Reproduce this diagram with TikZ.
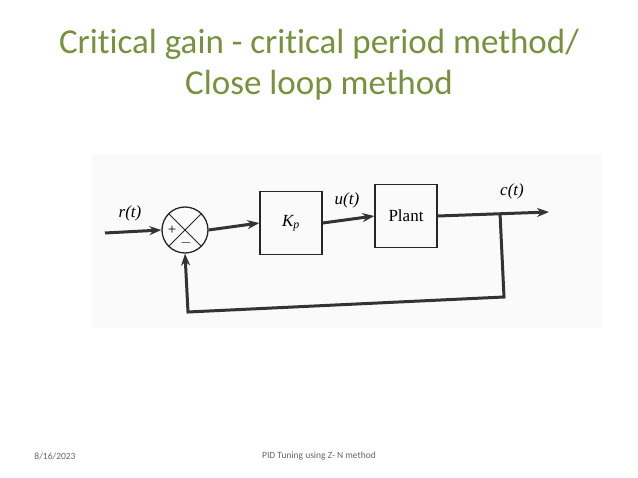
\documentclass[tikz,border=0pt]{standalone}
\usepackage{fontspec}
\setmainfont{Carlito}[Ligatures=NoCommon]
\newfontfamily\diagfont{Liberation Serif}
\usetikzlibrary{arrows.meta}
\definecolor{titlegreen}{HTML}{76923C}
\begin{document}
\begin{tikzpicture}[x=1pt,y=-1pt,
  blk/.style={draw=black!85,line width=1.3pt,minimum width=62pt,minimum height=63pt,font=\diagfont\fontsize{17}{17}\selectfont},
  sig/.style={draw=black!80,line width=3pt,-{Stealth[length=12pt,width=9pt]}},
  lbl/.style={font=\diagfont\itshape\fontsize{17}{17}\selectfont}]
\useasboundingbox (0,0) rectangle (638,478);
\fill[fill=white] (0,0) rectangle (638,478);
\fill[black!2] (92,155) rectangle (602,328);
\node[font=\fontsize{35}{41}\selectfont,text=titlegreen,align=center] (title) at (319,65) {Critical gain - critical period method/\\Close loop method};
\node[draw=black!85,line width=1.3pt,circle,minimum size=46pt,inner sep=0pt] (sum) at (185,230) {};
\draw[black!85,line width=1pt] (sum.45)--(sum.225) (sum.135)--(sum.315);
\node[font=\diagfont\fontsize{15}{15}\selectfont] at (172,230) {+};
\node[font=\diagfont\fontsize{15}{15}\selectfont] at (186,243) {$-$};
\node[blk] (kp) at (291,223) {\itshape K\textsubscript{p}};
\node[blk] (plant) at (406,216) {Plant};
\coordinate (in) at (105,233);
\coordinate (br) at (500,213);
\coordinate (out) at (549,212);
\coordinate (bl) at (504,297);
\coordinate (bb) at (188,312);
\draw[sig] (in) -- (sum.west);
\draw[sig] (sum.east) -- (kp.west);
\draw[sig] (kp.east) -- (plant.west);
\draw[sig] (plant.east) -- (out);
\draw[sig] (br) -- (bl) -- (bb) -- (sum.south);
\node[lbl] (rl) at (130,213) {r(t)};
\node[lbl] (ul) at (347,200) {u(t)};
\node[lbl] (cl) at (512,191) {c(t)};
\node[font=\fontsize{9.5}{9.5}\selectfont,text=black!60] (date) at (55,456) {8/16/2023};
\node[font=\fontsize{9.5}{9.5}\selectfont,text=black!60] (foot) at (319,456) {PID Tuning using Z- N method};
\end{tikzpicture}
\end{document}
